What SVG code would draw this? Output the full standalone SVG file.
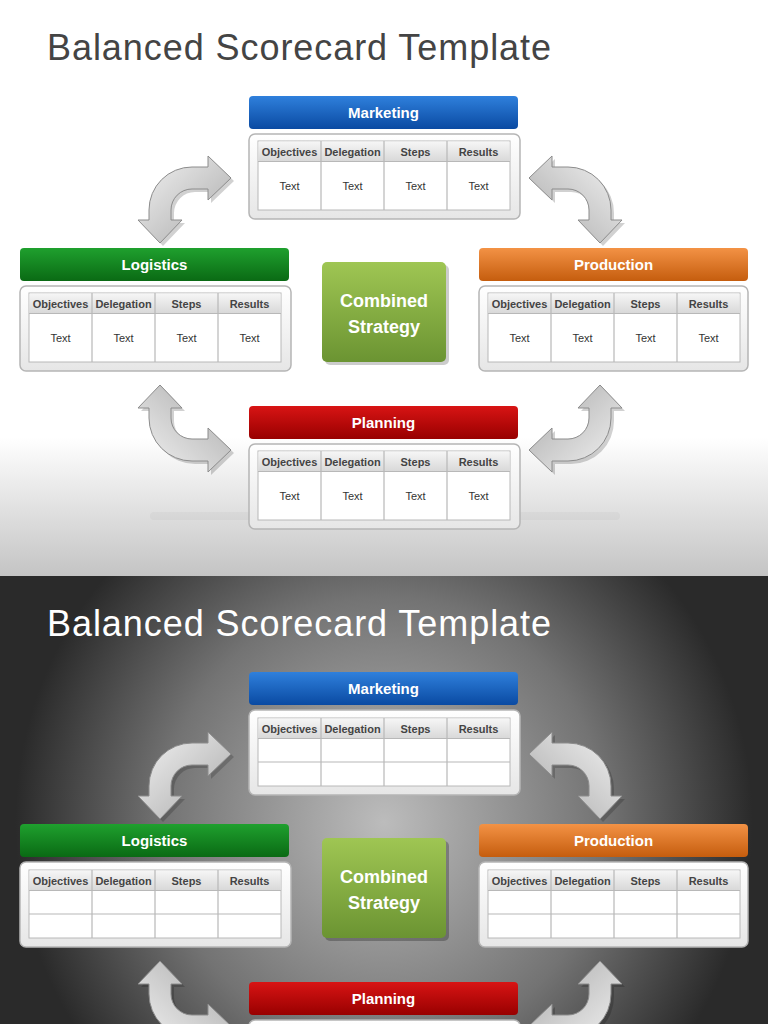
<svg xmlns="http://www.w3.org/2000/svg" xmlns:xlink="http://www.w3.org/1999/xlink" width="768" height="1024" viewBox="0 0 768 1024">
<defs>
<linearGradient id="bgTop" x1="0" y1="0" x2="0" y2="1"><stop offset="0" stop-color="#fff"/><stop offset="0.76" stop-color="#fff"/><stop offset="1" stop-color="#c4c4c4"/></linearGradient>
<radialGradient id="bgBot" cx="0.5" cy="0.55" r="0.6" gradientTransform="translate(0.5 0.55) scale(0.8 1.4) translate(-0.5 -0.55)"><stop offset="0" stop-color="#bcbcbc"/><stop offset="0.6" stop-color="#737373"/><stop offset="1" stop-color="#2a2a2a"/></radialGradient>
<linearGradient id="gBlue" x1="0" y1="0" x2="0" y2="1"><stop offset="0" stop-color="#2f80dc"/><stop offset="1" stop-color="#0a4aa2"/></linearGradient>
<linearGradient id="gGreen" x1="0" y1="0" x2="0" y2="1"><stop offset="0" stop-color="#1fa02e"/><stop offset="1" stop-color="#0a6a14"/></linearGradient>
<linearGradient id="gOrange" x1="0" y1="0" x2="0" y2="1"><stop offset="0" stop-color="#f39245"/><stop offset="1" stop-color="#c55d0e"/></linearGradient>
<linearGradient id="gRed" x1="0" y1="0" x2="0" y2="1"><stop offset="0" stop-color="#d81414"/><stop offset="1" stop-color="#980000"/></linearGradient>
<linearGradient id="gCombined" x1="0" y1="0" x2="0" y2="1"><stop offset="0" stop-color="#9fc653"/><stop offset="1" stop-color="#6b9432"/></linearGradient>
<linearGradient id="gCard" x1="0" y1="0" x2="0" y2="1"><stop offset="0" stop-color="#fff"/><stop offset="1" stop-color="#e6e6e6"/></linearGradient>
<linearGradient id="gHead" x1="0" y1="0" x2="0" y2="1"><stop offset="0" stop-color="#f6f6f6"/><stop offset="1" stop-color="#d8d8d8"/></linearGradient>
<linearGradient id="gArrow" x1="0" y1="0" x2="1" y2="1"><stop offset="0" stop-color="#f4f4f4"/><stop offset="1" stop-color="#a8a8a8"/></linearGradient>
<path id="arrow" d="M208 167 L208 156 L231 178 L208 200 L208 189 L192 189 A21 21 0 0 0 171 210 L171 220 L182 220 L160 243 L138 220 L149 220 L149 210 A43 43 0 0 1 192 167 Z"/>
<style>
.title{font-family:"Liberation Sans",Arial,sans-serif;font-size:36px}
.hd{font-family:"Liberation Sans",Arial,sans-serif;font-size:15px;font-weight:bold;fill:#fff;text-anchor:middle}
.th{font-family:"Liberation Sans",Arial,sans-serif;font-size:11px;font-weight:bold;fill:#444;text-anchor:middle}
.td{font-family:"Liberation Sans",Arial,sans-serif;font-size:11px;fill:#333;text-anchor:middle}
.cb{font-family:"Liberation Sans",Arial,sans-serif;font-size:18px;font-weight:bold;fill:#fff;text-anchor:middle}
.card{fill:url(#gCard);stroke:#b5b5b5;stroke-width:1.5}
.tbl{fill:#fff;stroke:#b8b8b8;stroke-width:1}
.ln{stroke:#b8b8b8;stroke-width:1.2}
.arr{fill:url(#gArrow);stroke:#8c8c8c;stroke-width:1}
.sh{fill:#000;opacity:0.18}
</style>
</defs>
<rect x="0" y="0" width="768" height="576" fill="url(#bgTop)"/>
<rect x="0" y="576" width="768" height="448" fill="url(#bgBot)"/>
<rect x="150" y="512" width="470" height="8" rx="4" fill="#000" opacity="0.03"/>
<text class="title" x="47" y="60" fill="#444" textLength="504">Balanced Scorecard Template</text>
<text class="title" x="47" y="636" fill="#fff" textLength="504">Balanced Scorecard Template</text>

<g id="connectors">
<g id="arrows-top">
<use xlink:href="#arrow" class="sh" transform="translate(3,3)"/><use xlink:href="#arrow" class="arr"/>
<g transform="translate(760,0) scale(-1,1)"><use xlink:href="#arrow" class="sh" transform="translate(-3,3)"/><use xlink:href="#arrow" class="arr"/></g>
<g transform="translate(0,628) scale(1,-1)"><use xlink:href="#arrow" class="sh" transform="translate(3,-3)"/><use xlink:href="#arrow" class="arr"/></g>
<g transform="translate(760,628) scale(-1,-1)"><use xlink:href="#arrow" class="sh" transform="translate(-3,-3)"/><use xlink:href="#arrow" class="arr"/></g>
</g>
<g id="arrows-bottom" transform="translate(0,576)">
<use xlink:href="#arrow" class="sh" transform="translate(3,3)"/><use xlink:href="#arrow" class="arr"/>
<g transform="translate(760,0) scale(-1,1)"><use xlink:href="#arrow" class="sh" transform="translate(-3,3)"/><use xlink:href="#arrow" class="arr"/></g>
<g transform="translate(0,628) scale(1,-1)"><use xlink:href="#arrow" class="sh" transform="translate(3,-3)"/><use xlink:href="#arrow" class="arr"/></g>
<g transform="translate(760,628) scale(-1,-1)"><use xlink:href="#arrow" class="sh" transform="translate(-3,-3)"/><use xlink:href="#arrow" class="arr"/></g>
</g>
</g>

<g id="marketing" transform="translate(249,96)">
<rect x="0" y="0" width="269" height="33" rx="4" fill="url(#gBlue)"/><text class="hd" x="134.5" y="22">Marketing</text>
<rect class="card" x="0" y="38" width="271" height="85" rx="6"/>
<rect class="tbl" x="9" y="45" width="252" height="69"/><rect x="9.5" y="45.5" width="251" height="20" fill="url(#gHead)"/>
<path class="ln" d="M9 65.5H261M72 45V114M135 45V114M198 45V114"/>
<text class="th" x="40.5" y="60">Objectives</text><text class="th" x="103.5" y="60">Delegation</text><text class="th" x="166.5" y="60">Steps</text><text class="th" x="229.5" y="60">Results</text>
<text class="td" x="40.5" y="94">Text</text><text class="td" x="103.5" y="94">Text</text><text class="td" x="166.5" y="94">Text</text><text class="td" x="229.5" y="94">Text</text>
</g>
<g id="logistics" transform="translate(20,248)">
<rect x="0" y="0" width="269" height="33" rx="4" fill="url(#gGreen)"/><text class="hd" x="134.5" y="22">Logistics</text>
<rect class="card" x="0" y="38" width="271" height="85" rx="6"/>
<rect class="tbl" x="9" y="45" width="252" height="69"/><rect x="9.5" y="45.5" width="251" height="20" fill="url(#gHead)"/>
<path class="ln" d="M9 65.5H261M72 45V114M135 45V114M198 45V114"/>
<text class="th" x="40.5" y="60">Objectives</text><text class="th" x="103.5" y="60">Delegation</text><text class="th" x="166.5" y="60">Steps</text><text class="th" x="229.5" y="60">Results</text>
<text class="td" x="40.5" y="94">Text</text><text class="td" x="103.5" y="94">Text</text><text class="td" x="166.5" y="94">Text</text><text class="td" x="229.5" y="94">Text</text>
</g>
<g id="production" transform="translate(479,248)">
<rect x="0" y="0" width="269" height="33" rx="4" fill="url(#gOrange)"/><text class="hd" x="134.5" y="22">Production</text>
<rect class="card" x="0" y="38" width="269" height="85" rx="6"/>
<rect class="tbl" x="9" y="45" width="252" height="69"/><rect x="9.5" y="45.5" width="251" height="20" fill="url(#gHead)"/>
<path class="ln" d="M9 65.5H261M72 45V114M135 45V114M198 45V114"/>
<text class="th" x="40.5" y="60">Objectives</text><text class="th" x="103.5" y="60">Delegation</text><text class="th" x="166.5" y="60">Steps</text><text class="th" x="229.5" y="60">Results</text>
<text class="td" x="40.5" y="94">Text</text><text class="td" x="103.5" y="94">Text</text><text class="td" x="166.5" y="94">Text</text><text class="td" x="229.5" y="94">Text</text>
</g>
<g id="planning" transform="translate(249,406)">
<rect x="0" y="0" width="269" height="33" rx="4" fill="url(#gRed)"/><text class="hd" x="134.5" y="22">Planning</text>
<rect class="card" x="0" y="38" width="271" height="85" rx="6"/>
<rect class="tbl" x="9" y="45" width="252" height="69"/><rect x="9.5" y="45.5" width="251" height="20" fill="url(#gHead)"/>
<path class="ln" d="M9 65.5H261M72 45V114M135 45V114M198 45V114"/>
<text class="th" x="40.5" y="60">Objectives</text><text class="th" x="103.5" y="60">Delegation</text><text class="th" x="166.5" y="60">Steps</text><text class="th" x="229.5" y="60">Results</text>
<text class="td" x="40.5" y="94">Text</text><text class="td" x="103.5" y="94">Text</text><text class="td" x="166.5" y="94">Text</text><text class="td" x="229.5" y="94">Text</text>
</g>
<g id="combined">
<rect x="325" y="265" width="124" height="100" rx="5" fill="#000" opacity="0.2"/>
<rect x="322" y="262" width="124" height="100" rx="5" fill="url(#gCombined)"/>
<text class="cb" x="384" y="307">Combined</text><text class="cb" x="384" y="333">Strategy</text>
</g>

<g id="marketing2" transform="translate(249,672)">
<rect x="0" y="0" width="269" height="33" rx="4" fill="url(#gBlue)"/><text class="hd" x="134.5" y="22">Marketing</text>
<rect class="card" x="0" y="38" width="271" height="85" rx="6"/>
<rect class="tbl" x="9" y="46" width="252" height="68"/><rect x="9.5" y="46.5" width="251" height="20" fill="url(#gHead)"/>
<path class="ln" d="M9 66.5H261M9 90H261M72 46V114M135 46V114M198 46V114"/>
<text class="th" x="40.5" y="61">Objectives</text><text class="th" x="103.5" y="61">Delegation</text><text class="th" x="166.5" y="61">Steps</text><text class="th" x="229.5" y="61">Results</text>
</g>
<g id="logistics2" transform="translate(20,824)">
<rect x="0" y="0" width="269" height="33" rx="4" fill="url(#gGreen)"/><text class="hd" x="134.5" y="22">Logistics</text>
<rect class="card" x="0" y="38" width="271" height="85" rx="6"/>
<rect class="tbl" x="9" y="46" width="252" height="68"/><rect x="9.5" y="46.5" width="251" height="20" fill="url(#gHead)"/>
<path class="ln" d="M9 66.5H261M9 90H261M72 46V114M135 46V114M198 46V114"/>
<text class="th" x="40.5" y="61">Objectives</text><text class="th" x="103.5" y="61">Delegation</text><text class="th" x="166.5" y="61">Steps</text><text class="th" x="229.5" y="61">Results</text>
</g>
<g id="production2" transform="translate(479,824)">
<rect x="0" y="0" width="269" height="33" rx="4" fill="url(#gOrange)"/><text class="hd" x="134.5" y="22">Production</text>
<rect class="card" x="0" y="38" width="269" height="85" rx="6"/>
<rect class="tbl" x="9" y="46" width="252" height="68"/><rect x="9.5" y="46.5" width="251" height="20" fill="url(#gHead)"/>
<path class="ln" d="M9 66.5H261M9 90H261M72 46V114M135 46V114M198 46V114"/>
<text class="th" x="40.5" y="61">Objectives</text><text class="th" x="103.5" y="61">Delegation</text><text class="th" x="166.5" y="61">Steps</text><text class="th" x="229.5" y="61">Results</text>
</g>
<g id="planning2" transform="translate(249,982)">
<rect x="0" y="0" width="269" height="33" rx="4" fill="url(#gRed)"/><text class="hd" x="134.5" y="22">Planning</text>
<rect class="card" x="0" y="38" width="271" height="85" rx="6"/>
</g>
<g id="combined2">
<rect x="325" y="841" width="124" height="100" rx="5" fill="#000" opacity="0.25"/>
<rect x="322" y="838" width="124" height="100" rx="5" fill="url(#gCombined)"/>
<text class="cb" x="384" y="883">Combined</text><text class="cb" x="384" y="909">Strategy</text>
</g>
</svg>
